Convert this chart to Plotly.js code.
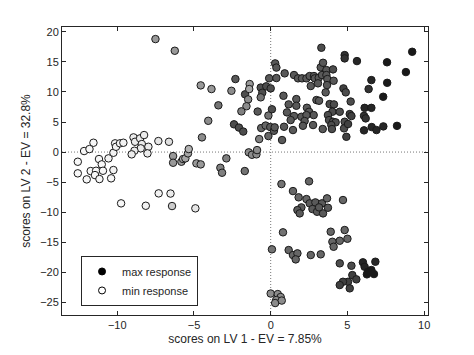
<!DOCTYPE html>
<html>
<head>
<meta charset="utf-8">
<script src="https://cdn.plot.ly/plotly-3.0.1.min.js"></script>
<style>html,body{margin:0;padding:0;background:#fff;}#chart{width:474px;height:355px;}</style>
</head>
<body>
<div id="chart"></div>
<script>
// Scores on latent variable 1 (x)
const lv1 = [
-11.55,-12.16,-11.81,-12.57,-12.57,-11.99,-11.73,-11.38,-11.19,-11.01,-10.93,-11.45,-11.16,-10.57,-10.25,-10.25,-10.40,-10.14,-10.08,-9.82,-9.60,-8.94,-8.84,-8.51,-8.25,-8.40,-8.47,-8.88,-9.06,-7.97,-8.03,-9.75,-8.14,-7.30,-6.53,-6.43,-4.91,-7.32,-6.63,
-6.36,-6.36,-5.82,-5.71,-5.56,-5.39,-5.34,-4.84,-4.56,-4.48,-4.07,-3.28,-3.17,-2.89,-1.69,-1.43,-1.22,-0.93,-0.89,
-7.51,-6.25,-4.56,-3.86,-3.41,-2.56,-2.30,-1.67,-1.37,-1.40,-1.47,-1.58,-1.91,-0.85,-0.65,-0.55,-0.65,-0.29,0.00,-0.10,0.08,-0.15,-2.39,-2.07,-1.79,-0.62,-0.33,-0.03,0.21,-0.15,-0.75,0.29,0.37,0.37,
0.91,1.52,1.78,2.04,2.33,2.54,2.82,2.87,3.13,3.26,3.41,3.30,3.63,3.34,3.63,3.69,4.06,4.10,3.08,3.67,2.61,3.58,4.82,4.82,4.74,4.89,5.21,0.83,1.67,1.17,1.67,2.98,3.15,2.36,2.50,2.80,3.84,4.12,4.02,3.73,4.50,5.15,5.26,1.06,1.52,2.00,2.33,1.30,2.21,2.76,3.80,4.06,4.23,3.95,4.82,4.78,5.04,0.26,0.87,1.45,2.10,3.39,3.99,4.93,0.74,
5.62,7.58,9.22,8.81,7.59,6.56,6.38,7.33,6.12,6.56,6.08,6.19,6.08,6.58,6.89,7.34,8.23,
0.70,2.50,1.45,1.82,2.33,2.54,2.91,3.34,3.67,4.71,2.00,1.74,1.89,2.72,3.02,3.41,3.73,3.15,0.80,3.91,4.82,5.00,4.50,4.02,4.10,0.08,1.17,1.45,1.74,1.63,2.61,3.26,4.50,5.26,6.01,6.82,6.12,6.34,6.56,6.73,6.27,5.32,5.58,5.04,4.71,4.50,5.15,0.00,0.46,0.65,0.36,0.29,0.72
];
// Scores on latent variable 2 (y)
const lv2 = [
1.55,0.17,0.50,-1.61,-3.54,-4.54,-3.16,-3.11,-1.16,-2.05,-3.11,-3.83,-4.49,-1.05,-0.12,-2.99,-4.37,1.45,0.88,1.45,1.55,2.44,1.71,2.28,2.83,1.33,0.62,0.22,-0.38,0.88,-0.22,-8.53,-8.93,-6.87,-6.90,-8.98,-9.36,1.83,1.71,
-0.67,-1.78,-1.61,-1.16,-1.05,-0.22,0.50,-1.88,-2.05,2.44,5.20,-2.61,-3.44,-1.05,-3.16,-0.05,-0.45,-0.38,0.33,
18.79,16.85,11.09,10.48,7.77,10.19,12.14,9.60,11.31,10.48,8.76,7.62,6.77,6.74,10.73,9.86,9.10,10.93,10.59,12.27,7.12,6.07,4.61,4.07,3.41,3.99,4.41,4.16,3.53,2.66,2.16,14.75,14.05,12.31,
13.09,12.81,12.26,12.26,12.26,12.64,12.64,12.26,12.36,14.09,14.85,17.35,13.64,12.81,12.81,12.14,13.75,11.86,11.43,11.14,10.98,9.93,16.13,15.58,10.59,9.93,8.40,9.36,8.81,7.93,7.70,8.65,8.53,7.37,6.70,6.15,7.98,7.93,6.70,6.15,6.70,6.32,5.99,6.60,5.99,5.87,6.15,5.32,5.16,4.49,5.32,5.04,4.94,4.49,5.04,3.94,4.66,4.11,4.21,3.66,4.37,3.83,3.83,2.54,2.00,
15.13,14.93,16.68,13.30,11.52,11.97,10.48,9.20,7.35,7.35,6.02,5.60,3.61,4.16,3.66,4.27,4.36,
-5.32,-4.87,-6.49,-7.53,-7.82,-8.53,-8.37,-8.53,-7.70,-7.98,-9.20,-9.65,-10.20,-9.48,-9.93,-10.20,-9.26,-9.20,-13.35,-13.25,-12.97,-14.42,-14.75,-14.92,-15.75,-16.18,-16.30,-17.13,-16.85,-17.85,-17.13,-17.01,-18.51,-18.91,-18.34,-18.24,-19.07,-19.91,-19.62,-20.29,-20.34,-20.46,-21.17,-21.57,-21.57,-22.12,-22.67,-23.53,-23.62,-24.11,-24.61,-25.11,-24.70
];
// Response level (0 = min response, 1 = max response)
const response = [
0.03,0.03,0.03,0.03,0.03,0.03,0.03,0.03,0.03,0.03,0.03,0.03,0.03,0.05,0.05,0.05,0.03,0.05,0.05,0.05,0.05,0.08,0.08,0.08,0.08,0.08,0.08,0.08,0.08,0.08,0.08,0.03,0.05,0.05,0.08,0.2,0.1,0.1,0.12,
0.4,0.4,0.4,0.35,0.35,0.35,0.3,0.4,0.4,0.45,0.45,0.5,0.5,0.5,0.55,0.45,0.45,0.45,0.45,
0.4,0.4,0.4,0.4,0.55,0.45,0.65,0.7,0.4,0.35,0.45,0.45,0.5,0.65,0.7,0.7,0.55,0.7,0.7,0.65,0.7,0.55,0.7,0.7,0.7,0.6,0.6,0.65,0.65,0.6,0.5,0.65,0.65,0.65,
0.65,0.65,0.65,0.65,0.65,0.65,0.65,0.65,0.65,0.65,0.65,0.7,0.65,0.65,0.65,0.65,0.7,0.65,0.65,0.65,0.65,0.65,0.8,0.8,0.75,0.7,0.7,0.65,0.65,0.65,0.65,0.65,0.65,0.65,0.65,0.65,0.7,0.7,0.7,0.7,0.7,0.75,0.75,0.65,0.65,0.65,0.65,0.65,0.65,0.65,0.7,0.7,0.7,0.7,0.7,0.7,0.75,0.65,0.65,0.65,0.65,0.65,0.7,0.75,0.65,
0.85,0.9,0.9,0.9,0.9,0.85,0.8,0.9,0.85,0.85,0.8,0.8,0.85,0.85,0.85,0.85,0.9,
0.55,0.6,0.6,0.6,0.6,0.65,0.65,0.65,0.6,0.6,0.65,0.65,0.65,0.65,0.65,0.65,0.65,0.65,0.55,0.6,0.6,0.6,0.6,0.6,0.6,0.55,0.6,0.6,0.6,0.6,0.6,0.6,0.7,0.7,0.85,0.85,0.85,0.9,0.9,0.9,0.9,0.75,0.75,0.75,0.75,0.75,0.75,0.45,0.45,0.45,0.45,0.45,0.45
];
const xTicks = [-10, -5, 0, 5, 10];
const yTicks = [-25, -20, -15, -10, -5, 0, 5, 10, 15, 20];
const legendNames = ['max response', 'min response'];

const ink = '#262626';
const font = 'Liberation Sans, Arial, sans-serif';

const traces = [
  {
    type: 'scatter', mode: 'markers', x: lv1, y: lv2, showlegend: false,
    marker: {
      size: 7.5, color: response, cmin: 0, cmax: 1,
      colorscale: [[0, '#ffffff'], [1, '#000000']],
      line: {color: '#1a1a1a', width: 1}
    },
    hoverinfo: 'x+y'
  },
  {
    type: 'scatter', mode: 'markers', x: [null], y: [null], name: legendNames[0],
    marker: {size: 7, color: '#000000', line: {color: '#000000', width: 1}}
  },
  {
    type: 'scatter', mode: 'markers', x: [null], y: [null], name: legendNames[1],
    marker: {size: 7, color: '#ffffff', line: {color: '#000000', width: 1}}
  }
];

const axisCommon = {
  showgrid: false, zeroline: false, showline: true, linecolor: ink, linewidth: 1,
  mirror: 'ticks', ticks: 'inside', ticklen: 4, tickcolor: ink, tickwidth: 1,
  tickfont: {family: font, size: 11, color: ink}
};

const layout = {
  width: 474, height: 355,
  margin: {l: 62, r: 46, t: 27, b: 40},
  paper_bgcolor: '#ffffff', plot_bgcolor: '#ffffff',
  font: {family: font, color: ink},
  xaxis: Object.assign({}, axisCommon, {
    range: [-13.6, 10.25], tickvals: xTicks,
    title: {text: 'scores on LV 1 - EV = 7.85%', font: {family: font, size: 12, color: ink}, standoff: 4}
  }),
  yaxis: Object.assign({}, axisCommon, {
    range: [-27.1, 20.8], tickvals: yTicks,
    title: {text: 'scores on LV 2 - EV = 32.8%', font: {family: font, size: 12, color: ink}, standoff: 6}
  }),
  shapes: [
    {type: 'line', xref: 'x', yref: 'paper', x0: 0, x1: 0, y0: 0, y1: 1, line: {color: '#777', width: 1, dash: '1px,2px'}, layer: 'below'},
    {type: 'line', xref: 'paper', yref: 'y', x0: 0, x1: 1, y0: 0, y1: 0, line: {color: '#777', width: 1, dash: '1px,2px'}, layer: 'below'}
  ],
  legend: {
    x: 0.052, y: 0.205, xanchor: 'left', yanchor: 'top',
    bgcolor: '#ffffff', bordercolor: ink, borderwidth: 1,
    font: {family: font, size: 11, color: ink},
    tracegroupgap: 0, itemwidth: 30
  },
  showlegend: true
};

Plotly.newPlot('chart', traces, layout, {staticPlot: true, displayModeBar: false});
</script>
</body>
</html>
